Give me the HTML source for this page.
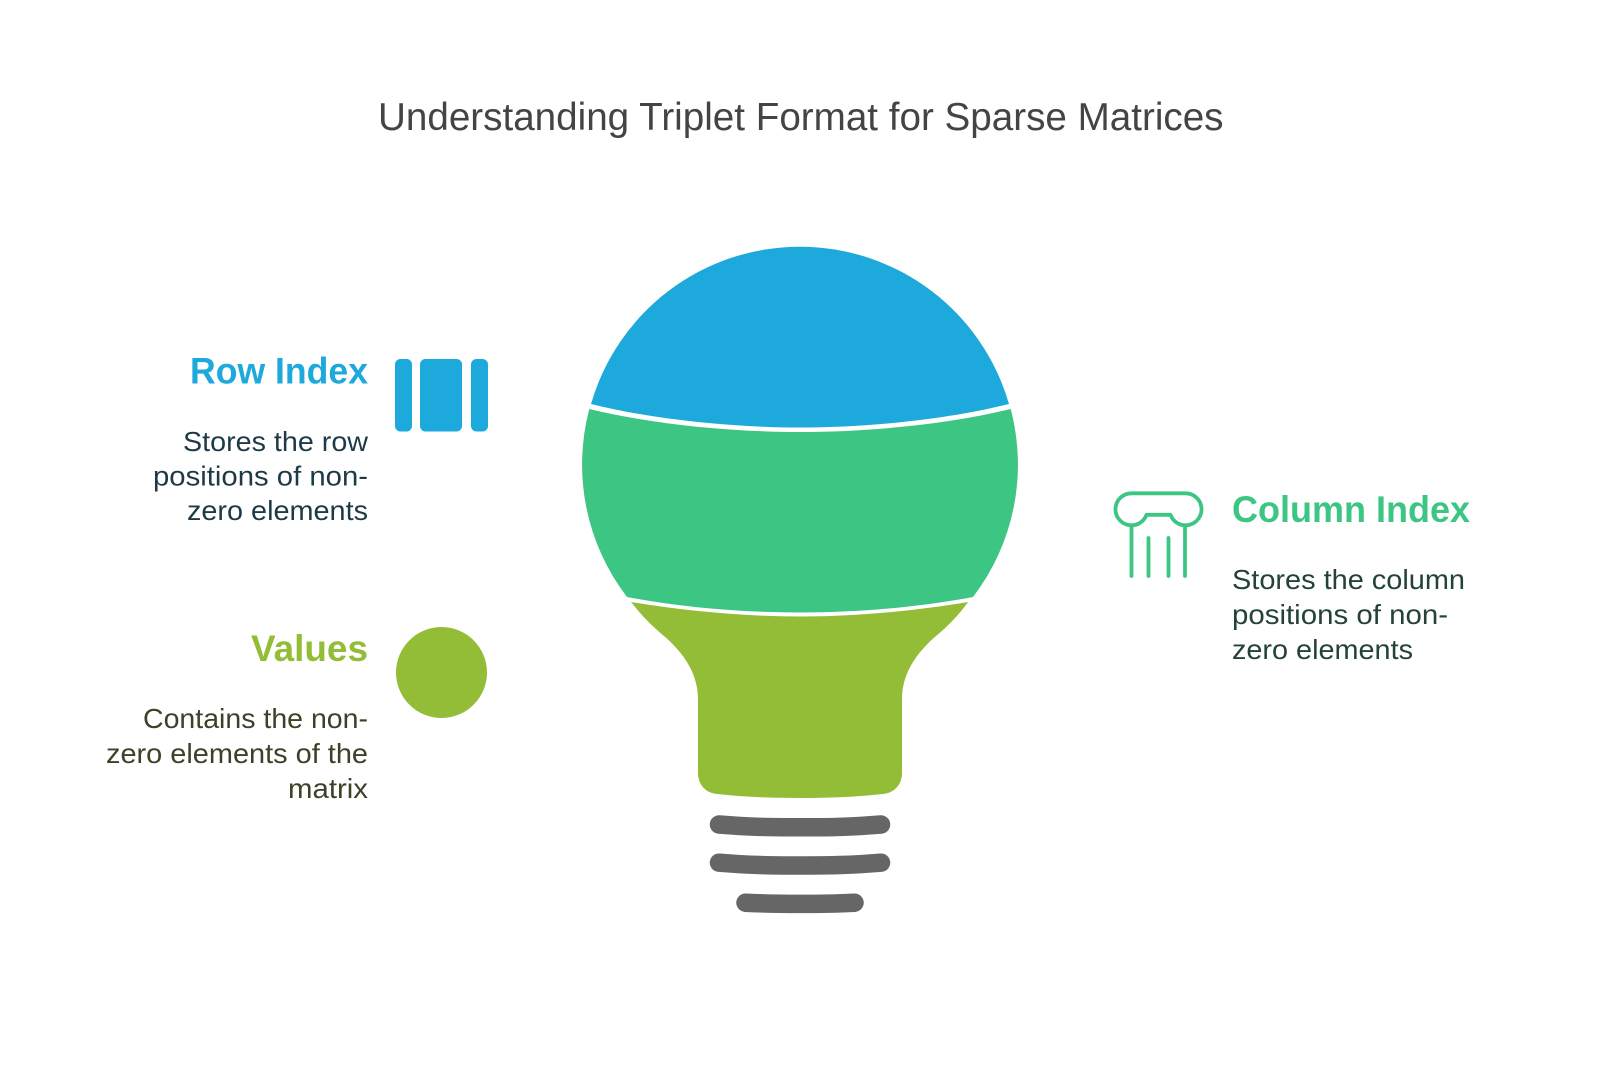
<!DOCTYPE html>
<html lang="en">
<head>
<meta charset="utf-8">
<title>Understanding Triplet Format for Sparse Matrices</title>
<style>
html,body{margin:0;padding:0;background:#fff;width:1600px;height:1068px;overflow:hidden}
svg{display:block}
text{font-family:"Liberation Sans",Arial,sans-serif}
.h{font-weight:700;font-size:37px}
.d{font-size:28px}
</style>
</head>
<body>
<svg width="1600" height="1068" viewBox="0 0 1600 1068" xmlns="http://www.w3.org/2000/svg">
<rect width="1600" height="1068" fill="#fff"/>
<text x="378" y="130" font-size="39" fill="#444" textLength="845.500" lengthAdjust="spacingAndGlyphs">Understanding Triplet Format for Sparse Matrices</text>

<path d="M591 404 C655 420 735 427.500 800 427.500 C865 427.500 945 420 1009 404 A217.500 217.500 0 0 0 591 404 Z" fill="#1EA9DC"/>
<path d="M589.300 409 C655 425 735 432 800 432 C865 432 945 425 1010.700 409 A217.500 217.500 0 0 1 973 597 C920 607 860 612.500 800 612.500 C740 612.500 680 607 627 597 A217.500 217.500 0 0 1 589.300 409 Z" fill="#3DC583"/>
<path d="M631 602 C685 611 745 616.500 800 616.500 C855 616.500 915 611 968 602 C958 616 948 626 936 636 C915 654 902 675 902 699 L902 773 C902 785 894 793 883 794 C855 797 830 798 800 798 C770 798 745 797 717 794 C706 793 698 785 698 773 L698 699 C698 675 685 654 664 636 C652 626 642 616 631 602 Z" fill="#93BD37"/>

<g fill="none" stroke="#666" stroke-width="18.500" stroke-linecap="round">
<path d="M719 824.500 C750 827 770 827.300 800 827.300 C830 827.300 850 827 881 824.500"/>
<path d="M719 862.700 C750 865.200 770 865.500 800 865.500 C830 865.500 850 865.200 881 862.700"/>
<path d="M745.500 902.700 C765 903.700 780 903.900 800 903.900 C820 903.900 835 903.700 854.500 902.700"/>
</g>

<g fill="#1EA9DC">
<rect x="395" y="359" width="17" height="72.500" rx="5.500"/>
<rect x="420" y="359" width="42" height="72.500" rx="5.500"/>
<rect x="471" y="359" width="17" height="72.500" rx="5.500"/>
</g>
<text class="h" x="190" y="383.500" fill="#1EA9DC" textLength="178" lengthAdjust="spacingAndGlyphs">Row Index</text>
<g fill="#1F3A47">
<text class="d" x="183" y="451" textLength="185" lengthAdjust="spacingAndGlyphs">Stores the row</text>
<text class="d" x="153" y="485.500" textLength="215" lengthAdjust="spacingAndGlyphs">positions of non-</text>
<text class="d" x="187" y="520" textLength="181" lengthAdjust="spacingAndGlyphs">zero elements</text>
</g>

<circle cx="441.500" cy="672.500" r="45.500" fill="#93BD37"/>
<text class="h" x="251" y="661" fill="#93BD37" textLength="117" lengthAdjust="spacingAndGlyphs">Values</text>
<g fill="#3C4227">
<text class="d" x="143" y="728" textLength="225" lengthAdjust="spacingAndGlyphs">Contains the non-</text>
<text class="d" x="106" y="763" textLength="262" lengthAdjust="spacingAndGlyphs">zero elements of the</text>
<text class="d" x="288" y="798" textLength="80" lengthAdjust="spacingAndGlyphs">matrix</text>
</g>

<g fill="none" stroke="#3DC583" stroke-width="3.800" stroke-linecap="round" stroke-linejoin="round">
<path d="M1131.500 493.300 H1185.500 A16 16 0 1 1 1170.500 514.800 H1146.500 A16 16 0 1 1 1131.500 493.300 Z"/>
<path d="M1131.500 525.300 V576 M1148.500 538 V576 M1168.500 538 V576 M1185 525.300 V576"/>
</g>
<text class="h" x="1232" y="522" fill="#3DC583" textLength="238" lengthAdjust="spacingAndGlyphs">Column Index</text>
<g fill="#24423A">
<text class="d" x="1232" y="589" textLength="233" lengthAdjust="spacingAndGlyphs">Stores the column</text>
<text class="d" x="1232" y="624" textLength="216" lengthAdjust="spacingAndGlyphs">positions of non-</text>
<text class="d" x="1232" y="659" textLength="181" lengthAdjust="spacingAndGlyphs">zero elements</text>
</g>
</svg>
</body>
</html>
